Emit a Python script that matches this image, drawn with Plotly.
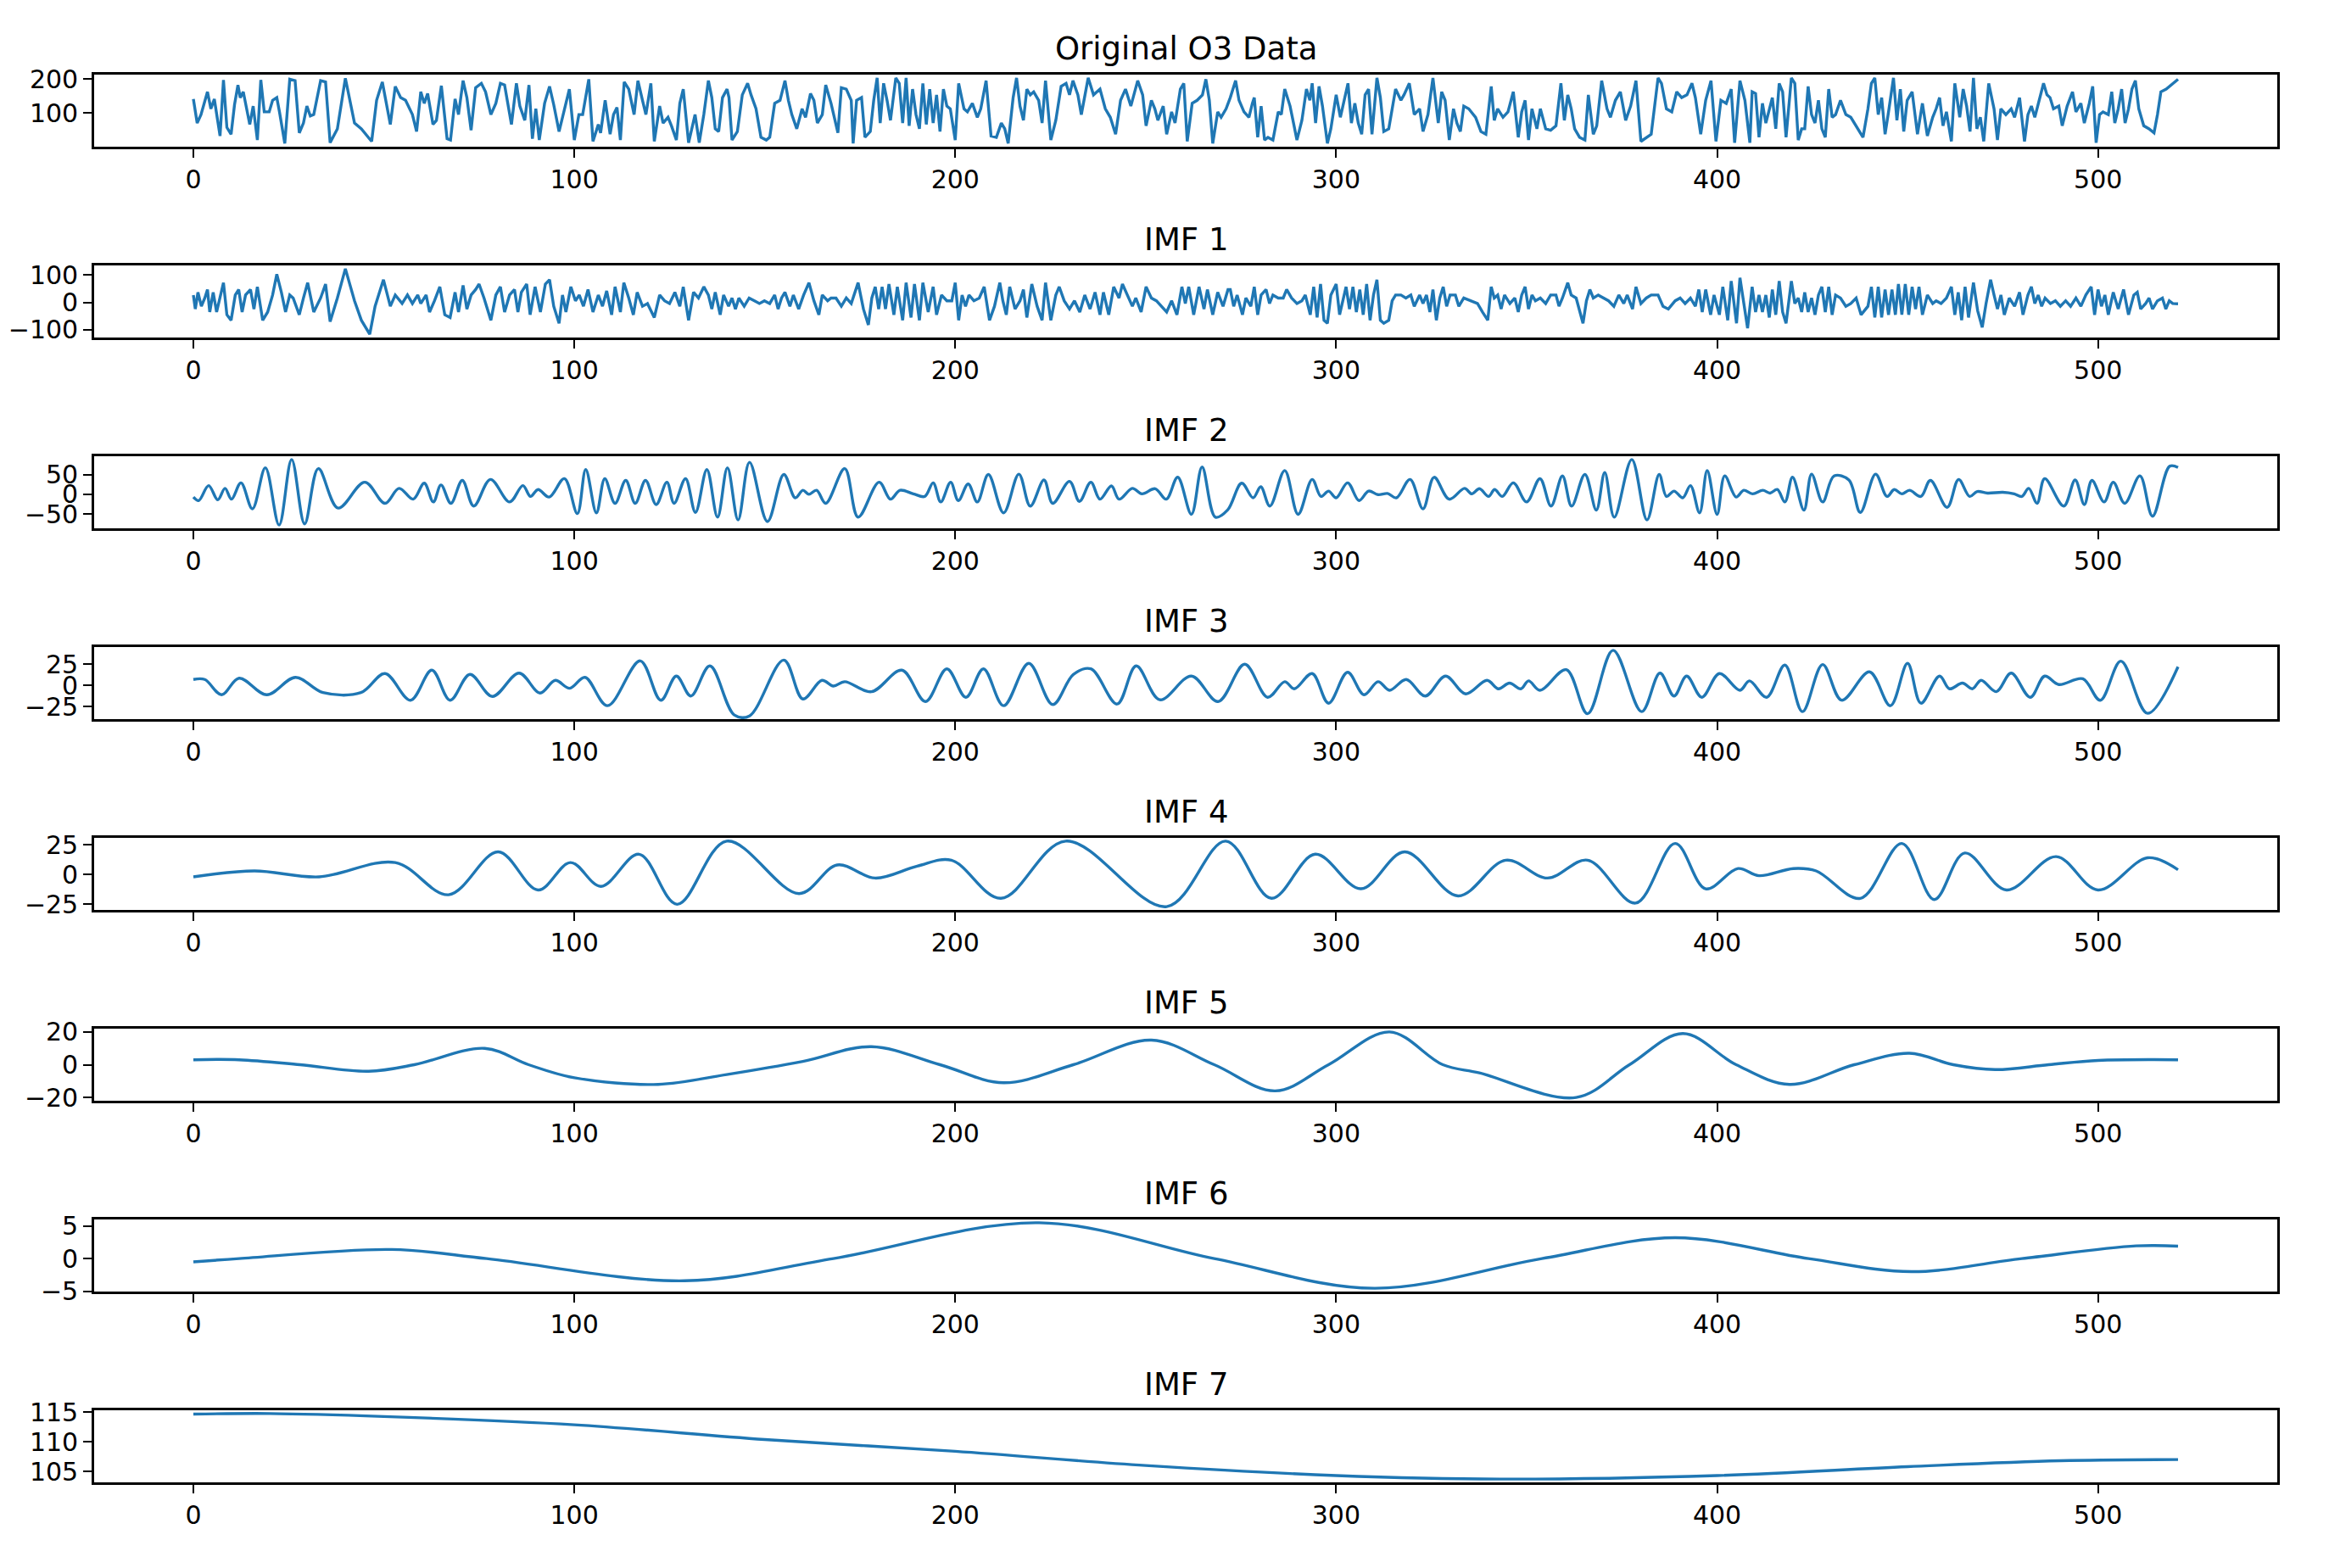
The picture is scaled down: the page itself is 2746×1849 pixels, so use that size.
import plotly.graph_objects as go

# ---------------- data ----------------
titles = ["Original O3 Data", "IMF 1", "IMF 2", "IMF 3", "IMF 4", "IMF 5", "IMF 6", "IMF 7"]
x_ticks = [0, 100, 200, 300, 400, 500]
y_ticks = [[100, 200], [-100, 0, 100], [-50, 0, 50], [-25, 0, 25],
           [-25, 0, 25], [-20, 0, 20], [-5, 0, 5], [105, 110, 115]]
n_points = 522

o3_pts = [
(0,141),(1,70),(2,95),(3.7,162),(4.6,112),(5.5,141),(7.0,32),(7.9,197),(8.8,57),(9.9,37),(10.8,124),(11.7,182),(12.3,145),(13.1,162),(14.8,66),(15.7,120),(16.8,20),(17.7,197),(18.6,103),(19.9,103),(20.8,137),(21.9,145),(22.6,103),(24.0,10),(25.3,199),(26.7,195),(27.8,41),(28.9,70),(29.8,120),(30.7,91),(31.6,95),(33.4,195),(34.7,191),(35.9,12),(37.8,53),(39.9,202),(42.3,70),(44.1,53),(46.8,16),(48.1,137),(49.6,191),(51.7,66),(53.0,178),(54.4,145),(55.7,137),(57.5,95),(58.6,45),(59.7,162),(60.6,128),(61.5,157),(62.9,66),(63.8,78),(65.1,180),(66.6,24),(67.5,20),(68.7,141),(69.6,95),(70.8,195),(71.8,145),(72.9,49),(74.1,174),(75.6,187),(76.7,162),(78.1,95),(79.4,128),(80.6,187),(81.7,182),(83.5,66),(84.8,187),(85.7,120),(87.0,78),(88.1,182),(89.0,24),(89.9,112),(90.8,20),(92.2,128),(93.5,178),(94.6,124),(96.0,45),(97.3,103),(98.7,170),(100.0,20),(101.2,95),(102.2,95),(103.8,199),(104.9,16),(106.3,66),(106.9,41),(108.1,137),(109.4,37),(110.3,95),(111.2,116),(112.1,20),(113.1,191),(114.3,170),(115.7,95),(116.7,195),(117.9,137),(118.8,95),(120.1,187),(121.0,16),(122.4,120),(123.3,70),(124.6,87),(125.5,62),(126.8,20),(127.7,128),(128.6,170),(130.0,12),(131.7,95),(132.8,12),(134.0,95),
(135.2,195),(136.1,145),(137.0,53),(137.9,45),(138.9,145),(140.1,170),(140.6,145),(141.4,20),(142.8,45),(144.1,153),(145.5,187),(146.4,153),(147.7,112),(149.0,28),(150.4,20),(151.3,28),(152.6,128),(154.0,137),(155.3,195),(156.2,137),(157.1,95),(158.4,53),(159.8,112),(160.7,87),(162.0,157),(162.9,137),(163.8,70),(165.1,95),(166.0,182),(167.4,128),(169.2,41),(170.1,174),(171.4,170),(172.7,137),(173.2,10),(174.1,137),(175.4,145),(176.3,28),(177.7,45),(178.6,137),(179.5,203),(180.3,70),(181.2,187),(182.1,137),(183.0,78),(184.4,203),(185.3,187),(186.2,70),(187.1,203),(187.9,62),(188.8,170),(189.7,95),(190.6,53),(191.5,187),(192.4,66),(193.3,170),(194.2,70),(195.1,153),(196.0,45),(196.9,170),(197.8,120),(198.7,112),(200.0,20),(200.9,187),(202.3,112),(203.2,103),(204.5,128),(205.8,87),(206.7,112),(208.1,195),(209.4,32),(210.8,28),(212.1,70),(213.0,53),(213.9,10),(215.2,145),(216.1,203),(217.0,120),(217.9,78),(218.8,170),(219.7,153),(220.6,162),(221.9,137),(222.8,70),(223.7,195),(225.1,20),(226.4,78),(227.8,178),(229.1,187),(230.0,153),(230.9,195),(232.2,153),(233.1,95),(234.9,203),(236.3,153),(238.0,170),(239.4,112),(240.7,87),(242.1,37),(243.4,137),(244.7,170),(246.1,120),(247.9,195),(249.2,153),(250.1,62),(251.5,137),(252.4,112),(253.2,78),(254.6,120),(255.5,37),(256.8,103),(257.7,70),(259.1,170),(260.0,187),(260.9,16),(262.2,128),(263.5,137),(264.9,153),(265.8,199),(266.7,137),(267.6,10),(268.9,103),(269.8,87),(271.1,112),
(272.2,145),(273.6,195),(274.5,137),(275.8,103),(277.1,87),(278.0,128),(278.5,145),(279.4,28),(280.3,120),(281.2,20),(282.1,28),(283.4,20),(284.8,103),(285.6,95),(286.5,170),(287.9,120),(289.7,20),(291.0,78),(292.2,170),(293.1,137),(293.7,187),(294.6,70),(295.5,178),(296.4,120),(297.7,10),(298.6,53),(300.0,153),(301.1,87),(301.7,120),(303.1,187),(304.0,70),(304.9,128),(305.8,70),(306.7,37),(307.6,153),(308.5,170),(309.4,37),(310.7,203),(311.6,145),(312.5,45),(313.8,53),(315.6,170),(317.0,137),(317.8,153),(319.2,187),(320.5,95),(321.9,112),(322.8,45),(324.1,95),(325.4,203),(326.8,70),(327.7,162),(328.6,137),(329.7,20),(330.8,112),(331.7,70),(332.6,45),(333.5,120),(334.8,112),(336.6,87),(338.0,45),(339.3,37),(340.7,178),(341.5,78),(342.4,112),(343.8,87),(345.1,103),(346.5,162),(347.8,28),(348.7,103),(349.6,137),(350.5,20),(351.4,112),(352.7,53),(353.6,112),(355.0,53),(356.3,49),(357.7,62),(359.0,187),(359.9,78),(360.8,153),(361.7,112),(362.6,53),(363.9,28),(365.3,20),(366.2,153),(367.5,37),(368.4,62),(369.7,195),(371.1,112),(372.0,87),(373.3,137),(374.6,162),(376.0,78),(377.3,120),(378.7,195),(380.0,16),(381.4,28),(382.7,37),(384.5,203),(385.4,187),(386.7,112),(388.1,103),(389.4,162),(390.7,145),(392.1,153),(393.4,187),(394.3,145),(395.7,37),(397.0,137),(398.4,195),(399.7,16),(401.0,137),(402.4,128),(403.7,170),(404.6,12),(406.0,195),(407.3,137),(408.6,12),
(409.2,162),(410.1,157),(411.0,28),(411.9,128),(412.8,70),(413.7,112),(414.5,145),(415.4,53),(416.3,187),(417.2,162),(418.1,28),(419.5,203),(420.4,187),(421.3,20),(422.2,53),(423.0,53),(423.9,178),(424.8,95),(425.7,70),(426.6,137),(427.5,53),(428.4,28),(429.3,170),(430.2,87),(431.1,95),(432.4,137),(433.8,95),(435.1,87),(436.5,62),(438.3,28),(439.6,112),(440.5,187),(441.4,203),(442.3,95),(443.2,145),(444.1,37),(445.0,103),(446.3,203),(447.2,78),(448.1,170),(449.0,45),(449.9,137),(451.2,162),(452.6,37),(453.9,128),(455.2,32),(456.6,87),(457.5,112),(458.4,145),(459.3,62),(460.2,103),(461.5,16),(462.4,187),(463.7,87),(464.6,170),(465.5,120),(466.4,45),(467.3,203),(468.2,53),(469.1,87),(470.0,16),(471.3,187),(472.7,112),(473.6,20),(474.5,112),(475.8,95),(477.2,112),(478.1,87),(479.4,145),(480.7,16),(481.6,95),(482.5,120),(483.4,87),(484.8,145),(485.7,187),(486.6,153),(487.4,145),(488.3,112),(489.7,120),(490.6,62),(491.9,120),(493.3,162),(494.2,103),(495.5,128),(496.4,70),(497.7,128),(498.6,178),(499.5,12),(500.4,95),(501.3,103),(502.7,95),(503.6,162),(504.4,70),(505.3,112),(506.2,170),(507.1,70),(508.0,112),(508.9,170),(509.8,195),(510.7,112),(512.0,62),(513.4,53),(514.7,41),(515.6,95),(516.5,162),(517.9,170),(518.7,178),(521,199),
]

imf1_pts = [
(0,27),(0.5,-24),(1.2,37),(2.1,-14),(3.0,16),(3.7,47),(4.3,-35),(5.2,37),(6.1,-35),(7.0,16),(7.9,72),(8.8,-45),(9.9,-65),(11.0,27),(11.9,47),(12.8,-35),(13.7,27),(15.0,47),(15.9,-24),(16.8,57),(18.2,-65),(19.5,-35),(20.8,27),(21.9,103),(23.1,37),(24.2,-35),(25.3,27),(26.2,16),(27.8,-45),(28.9,16),(30.0,72),(31.6,-35),(33.4,16),(34.7,67),(35.9,-70),(37.8,16),(39.9,123),(42.3,6),(44.1,-65),(46.3,-116),(47.7,-14),(49.9,83),(51.7,-14),(53.0,27),(54.8,-4),(56.2,27),(57.5,-4),(58.9,27),(59.7,-4),(61.1,27),(62.0,-35),(63.3,6),(64.7,57),(66.0,-45),(67.4,-55),(68.7,37),(69.6,-35),(70.8,62),(71.8,-24),(72.9,27),(74.1,47),(75.0,67),(76.3,16),(78.1,-65),(79.4,27),(80.6,57),(81.7,-35),(83.0,27),(84.3,47),(85.2,-35),(86.1,37),(87.5,67),(88.4,-45),(89.7,57),(91.1,-35),(92.4,67),(93.5,83),(94.6,-14),(96.0,-76),(96.9,27),(97.8,-35),(99.1,57),(100.3,6),(101.3,27),(102.4,-14),(103.6,47),(104.9,-35),(106.3,27),(107.4,-14),(108.5,42),(109.8,-45),(110.7,57),(112.1,-35),(113.0,72),(114.3,16),(115.5,-45),(116.5,37),(117.9,-14),(119.2,-4),(121.0,-55),(122.4,27),(123.7,6),(125.0,-4),(126.4,37),(127.7,-14),(128.6,57),(130.0,-65),(131.3,37),(132.6,16),(134.0,57),
(135.2,27),(136.1,-24),(137.0,37),(138.3,-45),(139.2,27),(140.5,-14),(141.4,16),(142.3,-24),(143.2,16),(144.6,-14),(145.9,16),(147.3,6),(148.6,-4),(149.9,6),(151.3,-4),(152.6,27),(153.5,-24),(154.4,16),(155.3,37),(156.6,-14),(157.5,27),(158.9,-24),(160.2,27),(161.6,72),(162.9,6),(164.2,-45),(165.1,27),(166.5,6),(167.4,16),(168.7,16),(170.1,-14),(171.4,16),(172.7,-4),(174.5,72),(175.9,-24),(177.2,-82),(178.1,16),(179.0,57),(179.9,-24),(180.8,57),(181.7,-24),(182.6,67),(183.9,-45),(184.8,57),(186.2,-65),(187.1,72),(188.4,-55),(189.3,67),(190.6,-65),(191.5,72),(192.9,-35),(194.2,57),(195.1,-45),(196.4,27),(197.8,6),(199.1,6),(200.0,72),(200.9,-65),(201.8,27),(202.7,-14),(203.6,27),(204.9,6),(206.3,16),(207.6,57),(209.0,-65),(210.3,-14),(211.7,72),(212.5,6),(213.4,-45),(214.3,57),(215.7,-24),(217.0,6),(217.9,47),(218.8,-55),(220.1,67),(221.5,-14),(222.8,-65),(223.7,72),(225.1,-65),(226.4,27),(227.3,57),(228.6,6),(230.0,-24),(231.3,6),(232.7,-35),(234.0,27),(235.4,-24),(236.7,37),(238.0,-45),(238.9,37),(240.3,-45),(241.6,57),(243.0,16),(243.9,67),(245.2,27),(246.5,-14),(247.4,16),(248.8,-35),(250.1,57),(251.5,16),(252.8,6),(254.1,-14),(255.5,-35),(256.8,6),(258.2,-45),(259.5,57),(260.4,-4),(261.3,57),(262.6,-45),(264.0,57),(265.3,-24),(266.2,47),(267.6,-45),(268.9,37),(270.3,-14),(271.6,47),
(272.2,47),(273.1,-14),(274.0,27),(275.4,-45),(276.3,16),(277.6,-14),(278.5,57),(279.4,-45),(280.3,27),(281.6,47),(282.5,-4),(283.4,27),(284.8,16),(286.1,16),(287.0,47),(288.3,16),(289.7,-4),(291.0,6),(291.9,27),(293.2,-45),(294.1,57),(295.0,-55),(295.9,67),(296.8,-65),(297.7,-76),(298.6,27),(300.0,67),(300.9,-45),(301.7,6),(302.6,57),(303.5,-24),(304.4,57),(305.3,-35),(306.2,47),(307.1,-45),(308.0,67),(308.9,-65),(309.8,27),(310.7,83),(311.6,-65),(312.5,-76),(313.8,-65),(314.7,6),(315.6,27),(317.0,27),(318.3,16),(319.6,27),(320.5,-14),(321.9,27),(322.8,-4),(323.7,27),(324.6,-35),(325.4,47),(326.3,-65),(327.2,16),(328.1,57),(329.0,-14),(329.9,27),(331.3,27),(332.2,-14),(333.5,16),(335.3,6),(337.1,-4),(338.4,-35),(339.8,-65),(340.7,57),(341.5,16),(342.4,27),(343.3,-24),(344.2,27),(345.6,-4),(346.9,16),(347.8,-35),(348.7,27),(349.6,57),(350.5,-24),(351.4,27),(352.3,6),(353.6,16),(355.0,-4),(356.3,27),(357.7,27),(358.5,-14),(359.4,16),(360.8,72),(361.7,27),(363.0,16),(364.8,-76),(365.7,6),(366.6,47),(367.5,16),(368.8,27),(370.2,16),(371.5,6),(372.9,-14),(374.2,27),(375.5,-4),(376.4,27),(377.8,-24),(378.7,57),(380.0,-4),(381.4,16),(382.7,27),(384.5,27),(385.8,-14),(387.2,-24),(389.0,6),(390.3,16),(391.6,-4),(393.0,16),(394.3,-14),(395.2,47),(396.1,-35),(397.0,47),(398.3,-45),(399.2,27),(400.6,-45),(401.5,57),(402.8,-65),(403.7,78),(405.1,-76),(406.0,90),(408.0,-94),
(409.2,57),(410.1,-35),(411.0,27),(411.9,-35),(412.8,27),(413.7,-55),(414.5,47),(415.4,-45),(416.3,78),(417.2,-35),(418.1,-76),(419.5,78),(420.4,-4),(421.3,16),(422.2,-35),(423.0,37),(423.9,-35),(424.8,16),(425.7,-45),(426.6,27),(427.5,57),(428.4,-35),(429.3,57),(430.2,-45),(431.1,27),(432.4,16),(433.8,-14),(435.1,-4),(436.5,16),(437.8,-45),(439.6,-14),(440.5,57),(441.4,-55),(442.3,57),(443.2,-55),(444.1,47),(445.0,-45),(445.9,47),(446.8,-45),(447.6,67),(448.5,-45),(449.4,67),(450.3,-45),(451.2,57),(452.1,-24),(453.0,57),(453.9,-45),(455.2,27),(456.6,-4),(457.5,6),(458.8,-4),(460.2,16),(461.5,57),(462.4,-45),(463.3,37),(464.2,-65),(465.1,57),(466.0,-55),(467.3,72),(468.4,-30),(469.6,-91),(470.6,-4),(471.8,83),(472.7,27),(473.6,-24),(474.5,27),(475.4,-45),(476.7,16),(478.1,-14),(479.4,37),(480.3,-45),(481.6,27),(482.5,57),(483.4,-4),(484.3,27),(485.2,-14),(486.1,16),(487.5,-4),(488.8,6),(490.1,-14),(491.5,6),(492.8,-14),(494.2,16),(495.5,-14),(496.8,27),(498.2,57),(499.1,-45),(500.0,47),(500.9,-14),(501.8,27),(502.7,-45),(504.0,37),(505.3,-24),(506.7,47),(508.0,-45),(509.4,27),(510.3,37),(511.2,-24),(512.5,-4),(513.4,16),(514.3,-24),(515.6,6),(516.9,16),(517.8,-24),(518.7,6),(519.6,-4),(521,-5),
]

imf2_pts = [
(0,-7),(1.4,-16),(4,22),(6.4,-14),(8.3,15),(10,-12.5),(12.5,29),(15.5,-37),(18.9,67),(22.5,-78),(25.8,88),(29.2,-75),(32.8,65),(38,-35),(45,30.5),(50.3,-23),(54,15),(57.7,-12.5),(60.6,28),(63,-19.5),(65,23.6),(67.6,-23),(70.6,35),(73.6,-30),(78,37.5),(83,-19.5),(86.5,22),(88.5,-5.5),(90.5,12),(93.4,-7),(97.4,39.5),(100.8,-49),(103,62.5),(105.8,-47),(108,39.5),(110.7,-23),(113.5,35),(116,-23),(118.7,35),(121.5,-26),(124.3,30.5),(126.2,-23),(129.2,39.5),(131.8,-46),(134.8,62.5),(137.6,-58),(140.2,67),(143,-65),(146,81),(150.7,-69),(155,50),(158,-9),(160,10),(161.6,0),(163.6,10),(166,-23),(171,65),(174.5,-58),(180,30.5),(183,-12.5),(185.5,10),(189,1),(192,-5.5),(194.2,29),(196.2,-19.5),(198.8,30.5),(200.8,-16),(203.4,26),(205.8,-19.5),(208.7,50),(212.7,-47),(216.7,51),(219.7,-30),(223.3,36),(225.6,-23),(230,32.6),(232.6,-18),(235.6,30.5),(238,-12.5),(241,21),(243,-12.5),(246.5,15),(249,1),(252.5,14),(255.4,-12.5),(258.4,43),(262,-50.7),(264.8,69),(268.3,-58),(271.5,-40),(275.2,28),(278.2,-9),(280.2,19),(282.6,-30),(286.5,60),(290,-50.7),(293.7,37.5),(296,-5.5),(298,8),(300,-9),(303,29),(306,-16),(308.5,8),(311,-1),(313.5,2),(315.8,-9),(319.4,37.5),(322.8,-37),(325.7,43),(329.7,-12.5),(333.7,15),(335.6,1),(337.6,14),(340,-5.5),(341.6,12),(343.6,-5.5),(346.5,29),(350,-19.5),(353.5,39.5),(356.4,-30),(359.4,46.5),(361.8,-30),(365.3,50),(368.3,-40),(370.5,55),(373,-58),(377.6,88),(381.6,-65),(384.8,50),(386.7,-5.5),(388.7,8),(391,-9),(393,22),(395.4,-47),(397.4,60),(400,-50.7),(402,46.5),(405,-7),(407,10),(409.3,1),(412,10),(413.9,3),(415.8,12),(417.8,-19.5),(419.8,43),(422.8,-40),(424.8,51),(427.7,-19.5),(430.7,46.5),(434.6,36),(437.6,-46),(441.6,51),(444.6,-5.5),(446.5,12),(448.5,1),(450.5,10),(453.5,-5.5),(456,35),(460.4,-33),(463.4,37.5),(466.3,-5.5),(468.3,7),(471,3),(475,5),(478,1),(480,-5.5),(481.8,15),(484,-23),(486,39.5),(491,-30),(494,36),(496.4,-26),(498.4,35),(501.6,-19.5),(504,30.5),(507,-23),(511,46.5),(514.3,-55.6),(518.8,71),(521,68),
]

imf3_pts = [
(0,7),(3,7),(7.4,-11),(12,8.5),(19.3,-11),(26.8,9.5),(34,-8.5),(44,-8.5),(50.3,14),(57,-17.5),(62.6,18),(67.4,-17.5),(72.6,13),(78.5,-13),(85.5,14.5),(91,-9),(95,6),(98.8,-3.4),(102.8,9.5),(108.7,-24),(117.3,29),(122.7,-17.5),(126.8,11),(130.6,-12.5),(135.6,23),(142,-35),(146,-36),(155,30),(160,-16),(165,6),(168,-0.7),(171,4.4),(178,-7.4),(186,18),(192.2,-19),(197.8,19.6),(202.8,-14),(207.4,19.6),(212.7,-24),(219.3,26),(225.6,-22.6),(231,13),(235.6,19.6),(242.5,-22),(247.5,23),(253.7,-17),(262,11),(269,-19),(276,25),(282,-14),(286.5,4.4),(289,-4),(293.7,14),(298,-21),(303,15.5),(307.3,-11),(311,4.4),(314,-5.7),(318.4,7),(323.4,-12.5),(328.7,11),(334,-10),(339.6,6),(342.6,-4),(345.5,2.7),(348.5,-4),(350.5,5.4),(353.5,-5.7),(360.4,18.6),(366,-33.5),(372.7,41.5),(380.2,-31),(385,14.5),(388.7,-12.5),(392,11),(396,-14),(400.6,14),(406,-5.7),(408.5,5.4),(413,-14),(417.8,24),(422.4,-31),(427.7,24.7),(432.7,-17.5),(440,16),(445.5,-24),(450,26),(453.5,-21),(458.4,11),(461,-4),(464.4,2.7),(467,-4),(469.3,6),(473.3,-7.4),(477.2,14.5),(482.2,-14),(486,11),(489.7,1),(496,7.8),(500.6,-17.5),(506,28.7),(513,-33),(521,22),
]

imf4_pts = [
(0,-2),(16,3),(33,-2),(53,10),(67,-17),(80,19),(90.5,-13),(99,10),(107,-10),(117,17),(127,-25),(140,28),(159,-16),(169,8),(179,-3),(190,7),(199,12),(212,-20),(229,28),(255.5,-27),(271,28),(283,-20),(294.5,17),(306.5,-12),(318,19),(332,-18),(344.5,12),(355.5,-3),(366,12),(378.6,-24),(389,26),(397,-12),(405.5,5),(411,-1),(420,5),(426,3),(437.6,-20),(448.5,26),(457,-21),(465,18),(476,-13),(489,15),(500,-13),(513,14),(521,4),
]

imf5_pts = [
(0,3),(12,3),(28,0),(46,-4),(58,0),(76.5,10),(88,0),(100,-8),(122,-12),(140,-6),(160,2),(178,11),(196,0),(212.7,-11),(231,0),(251.5,15),(268,0),(284,-16),(298,0),(314,20),(328,0),(337.6,-5),(363,-20),(377,0),(391,19),(405,0),(419,-12),(436,0),(450.5,7),(462,0),(473,-3),(487,0),(500,2.6),(521,3),
]

imf6_pts = [
(0,-0.5),(12,0),(52,1.4),(77,0),(129,-3.4),(168,0),(222,5.5),(268,0),(310,-4.55),(354,0),(389,3.2),(424,0),(451,-2.0),(480,0),(510,1.95),(521,1.9),
]

imf7_pts = [
(0,114.7),(20,114.8),(50,114.3),(100,112.9),(150,110.4),(200,108.4),(250,106.0),(300,104.3),(343,103.7),(400,104.3),(450,105.8),(490,106.8),(521,107.0),
]

series = [o3_pts, imf1_pts, imf2_pts, imf3_pts, imf4_pts, imf5_pts, imf6_pts, imf7_pts]
smooth = [False, False, True, True, True, True, True, True]

# ---------------- layout geometry ----------------
W, H = 2746, 1849
ML, MR = 111, 61
TOP0, STEP, PH = 88, 225, 85
BLUE = "#1f77b4"
FONT = "DejaVu Sans"

fig = go.Figure()
layout = dict(template="none", width=W, height=H,
              margin=dict(l=ML, r=MR, t=0, b=0, pad=0, autoexpand=False),
              paper_bgcolor="white", plot_bgcolor="white", showlegend=False,
              font=dict(family=FONT, color="black"))
annotations = []
xmin, xmax = 0, n_points - 1
xpad = 0.05 * (xmax - xmin)

for i, pts in enumerate(series):
    xs = [p[0] for p in pts]
    ys = [p[1] for p in pts]
    sfx = "" if i == 0 else str(i + 1)
    fig.add_trace(go.Scatter(
        x=xs, y=ys, mode="lines",
        line=dict(color=BLUE, width=3.4, shape="spline" if smooth[i] else "linear",
                  smoothing=1.0),
        xaxis="x" + sfx, yaxis="y" + sfx, hoverinfo="skip"))
    lo, hi = min(ys), max(ys)
    pad = 0.05 * (hi - lo)
    top = TOP0 + STEP * i
    d1 = 1 - top / H
    d0 = 1 - (top + PH) / H
    common = dict(showline=True, mirror=True, linecolor="black", linewidth=2.6,
                  ticks="outside", ticklen=10, tickwidth=2.2, tickcolor="black",
                  showgrid=False, zeroline=False, automargin=False,
                  tickfont=dict(family=FONT, size=30, color="black"))
    layout["xaxis" + sfx] = dict(domain=[0, 1], range=[xmin - xpad, xmax + xpad],
                                 tickvals=x_ticks, anchor="y" + sfx, **common)
    layout["yaxis" + sfx] = dict(domain=[d0, d1], range=[lo - pad, hi + pad],
                                 tickvals=y_ticks[i], anchor="x" + sfx, **common)
    annotations.append(dict(text=titles[i], x=0.5, xref="paper", xanchor="center",
                            y=1 - (top - 31) / H, yref="paper", yanchor="middle",
                            showarrow=False,
                            font=dict(family=FONT, size=37, color="black")))

layout["annotations"] = annotations
fig.update_layout(**layout)
fig.write_html("out.html", config={"displayModeBar": False},
               post_script="document.body.style.margin='0';")
